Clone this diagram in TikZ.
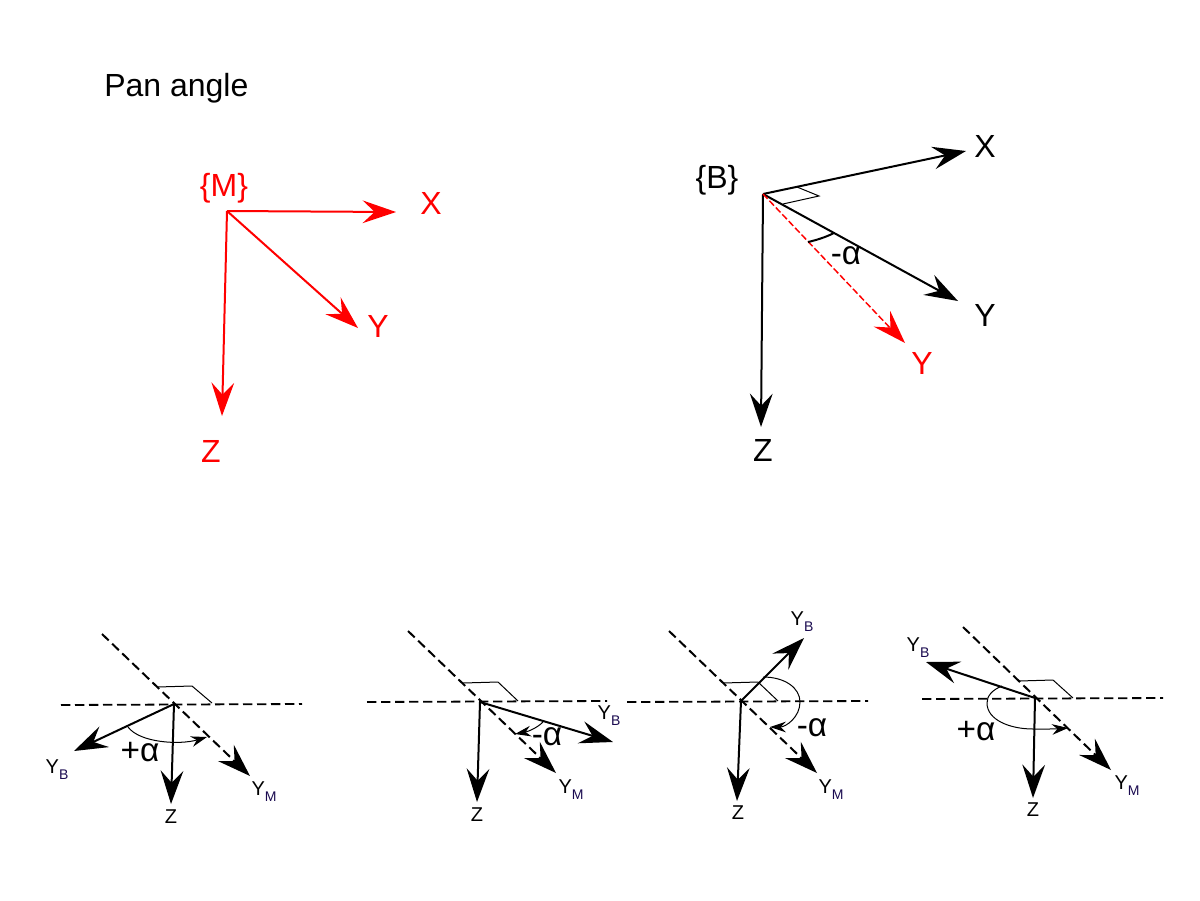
\documentclass[tikz,border=0pt]{standalone}
\usepackage{fontspec}
\setmainfont{Liberation Sans}
\usetikzlibrary{arrows.meta}
\definecolor{subc}{HTML}{1A0A50}
\newcommand{\subY}[1]{Y\raisebox{-0.3em}{\fontsize{10.5}{12}\selectfont\textcolor{subc}{#1}}}
\tikzset{
  big/.style={line width=1.5pt,-{Stealth[length=25pt,width=17pt,inset=9pt]}},
  bigr/.style={big,red},
  dashl/.style={line width=1.35pt,dash pattern=on 7pt off 3.5pt},
  dasha/.style={big,dash pattern=on 7pt off 3.5pt},
  thin1/.style={line width=0.75pt},
  thina/.style={line width=0.75pt,-{Stealth[length=12pt,width=8pt,inset=4pt]}},
  lab/.style={inner sep=0pt,font=\fontsize{24}{28}\selectfont},
  labr/.style={lab,text=red},
  small/.style={inner sep=0pt,font=\fontsize{15}{18}\selectfont},
  ang/.style={inner sep=0pt,font=\fontsize{25}{28}\selectfont}
}
\begin{document}
\begin{tikzpicture}[x=0.75pt,y=-0.75pt]
\path[use as bounding box,fill=white] (0,0) rectangle (1200,900);
\node[lab,anchor=west] (title) at (104,88) {Pan angle};

% frame M
\coordinate (mo) at (227,211);
\coordinate (mx) at (396,212);
\coordinate (my) at (358,328);
\coordinate (mz) at (222,416);
\draw[bigr] (mo) -- (mx);
\draw[bigr] (mo) -- (my);
\draw[bigr] (mo) -- (mz);
\node[labr] (mlab) at (224,188) {\{M\}};
\node[labr] (mxl) at (431,203) {X};
\node[labr] (myl) at (378,326) {Y};
\node[labr] (mzl) at (211,451) {Z};

% frame B
\coordinate (bo) at (763,194);
\coordinate (bx) at (966,151);
\coordinate (by) at (958,301);
\coordinate (bry) at (905,343);
\coordinate (bz) at (761,427);
\draw[big] (bo) -- (bx);
\draw[big] (bo) -- (by);
\draw[big] (bo) -- (bz);
\draw[line width=1.1pt,red,dash pattern=on 5pt off 2pt] (bo) -- (893,331);
\draw[bigr,dash pattern=on 0pt off 100pt] (bo) -- (bry);
\draw[thin1] (797,187) -- (819,196) -- (783,204);
\draw[line width=1.5pt] (808,242) .. controls (817,240) and (826,237) .. (834,233);
\node[lab] (blab) at (717,180) {\{B\}};
\node[lab] (bxl) at (985,146) {X};
\node[lab] (byl) at (985,315) {Y};
\node[labr] (bryl) at (922,363) {Y};
\node[lab] (bzl) at (763,450) {Z};
\node[ang] (bang) at (846,256) {-α};

% panel 1
\coordinate (ao) at (174,704);
\coordinate (ah1) at (61,705); \coordinate (ah2) at (302,704);
\coordinate (ad) at (102,634); \coordinate (aym) at (250,776);
\coordinate (ayb) at (74,751); \coordinate (az) at (171,804);
\draw[dashl] (ah1) -- (ah2);
\draw[dasha] (ad) -- (aym);
\draw[big] (ao) -- (ayb);
\draw[big] (ao) -- (az);
\draw[thin1] (157,687) -- (192,686) -- (212,703);
\draw[thina] (128,727) .. controls (140,743) and (180,745) .. (207,737);
\node[small] (aybl) at (57,770) {\subY{B}};
\node[small] (ayml) at (264,792) {\subY{M}};
\node[small] (azl) at (171,817) {Z};
\node[ang] (aang) at (140,752) {+α};

% panel 2
\coordinate (co) at (480,702);
\coordinate (ch1) at (367,702); \coordinate (ch2) at (607,701);
\coordinate (cd) at (408,631); \coordinate (cym) at (556,773);
\coordinate (cyb) at (613,742); \coordinate (cz) at (477,802);
\draw[dashl] (ch1) -- (ch2);
\draw[dasha] (cd) -- (cym);
\draw[big] (co) -- (cyb);
\draw[big] (co) -- (cz);
\draw[thin1] (463,683) -- (498,682) -- (518,701);
\draw[thina] (543,722) .. controls (536,729) and (526,732) .. (515,734);
\node[small] (cybl) at (609,716) {\subY{B}};
\node[small] (cyml) at (571,790) {\subY{M}};
\node[small] (czl) at (477,815) {Z};
\node[ang] (cang) at (547,737) {-α};

% panel 3
\coordinate (eo) at (741,701);
\coordinate (eh1) at (627,702); \coordinate (eh2) at (868,701);
\coordinate (ed) at (669,631); \coordinate (eym) at (817,773);
\coordinate (eyb) at (804,638); \coordinate (ez) at (737,801);
\draw[dashl] (eh1) -- (eh2);
\draw[dasha] (ed) -- (eym);
\draw[big] (eo) -- (eyb);
\draw[big] (eo) -- (ez);
\draw[thin1] (723,683) -- (758,682) -- (778,701);
\draw[thina] (763,677) .. controls (785,677) and (800,688) .. (800,702) .. controls (800,717) and (786,727) .. (770,727);
\node[small] (eybl) at (802,622) {\subY{B}};
\node[small] (eyml) at (831,790) {\subY{M}};
\node[small] (ezl) at (738,813) {Z};
\node[ang] (eang) at (812,728) {-α};

% panel 4
\coordinate (go) at (1035,698);
\coordinate (gh1) at (922,699); \coordinate (gh2) at (1163,698);
\coordinate (gd) at (963,627); \coordinate (gym) at (1111,770);
\coordinate (gyb) at (926,662); \coordinate (gz) at (1033,798);
\draw[dashl] (gh1) -- (gh2);
\draw[dasha] (gd) -- (gym);
\draw[big] (go) -- (gyb);
\draw[big] (go) -- (gz);
\draw[thin1] (1019,681) -- (1053,680) -- (1073,698);
\draw[thina] (1002,686) .. controls (992,690) and (987,696) .. (987,703) .. controls (987,720) and (1010,729) .. (1033,729) .. controls (1045,729) and (1057,729) .. (1068,728);
\node[small] (gybl) at (918,648) {\subY{B}};
\node[small] (gyml) at (1127,786) {\subY{M}};
\node[small] (gzl) at (1033,810) {Z};
\node[ang] (gang) at (976,731) {+α};
\end{tikzpicture}
\end{document}
